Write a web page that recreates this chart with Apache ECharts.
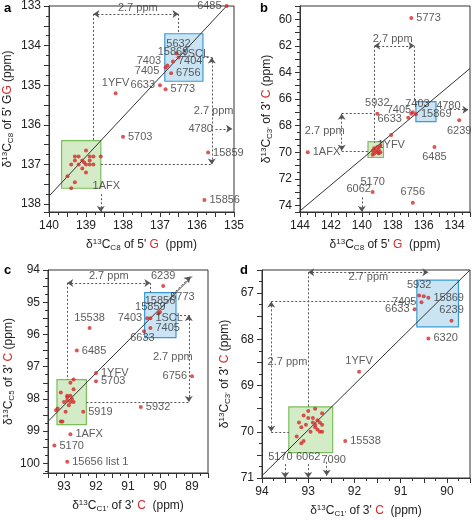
<!DOCTYPE html>
<html>
<head>
<meta charset="UTF-8">
<script src="https://cdn.jsdelivr.net/npm/echarts@6/dist/echarts.min.js"></script>
<style>body{margin:0}#app{width:474px;height:520px}</style>
</head>
<body>
<div id="app"></div>
<script>
// labelled points: [x, y, name]
const ptsA = [[135.2,133.0,'6485'],[136.55,134.2,'1SCL'],[136.5,134.3,''],[136.65,134.4,'7404'],[136.8,134.5,''],[136.85,134.55,''],[136.7,134.7,'6756'],
  [137.0,135.0,'6633'],[136.85,135.1,'5773'],[138.2,135.2,'1YFV'],[138.0,136.3,'5703'],[135.7,136.7,'15859'],[135.8,137.9,'15856']];
const clusterA = [[139.2,136.8],[139.0,136.65],[139.3,136.8],[138.9,136.8],[138.8,136.8],[138.6,136.8],[139.1,136.9],[138.9,136.9],[139.2,137.0],
  [139.0,137.0],[138.8,137.0],[139.4,137.0],[139.3,136.9],[139.1,137.1],[139.0,137.2],[138.9,137.0],[139.5,137.3],[139.3,137.45],[139.4,137.6],[139.05,136.95]];
const ptsB = [[136.8,59.9,'5773'],[139.0,67.1,'5932'],[136.7,67.0,''],[136.8,67.1,''],[136.5,67.15,'15869'],[137.0,67.4,''],
  [133.7,67.6,'6239'],[138.1,68.7,'1YFV'],[135.3,69.6,'6485'],[143.5,70.0,'1AFX'],[139.3,73.0,'5170'],[136.7,73.8,'6756']];
const clusterB = [[139.2,69.7],[139.0,69.6],[138.8,69.5],[139.3,69.9],[139.1,69.9],[138.9,69.8],[139.0,70.0],[139.2,70.1],[138.8,70.0],[139.3,70.2],[138.9,70.1]];
const ptsC = [[89.9,94.5,'6239'],[90.0,95.3,'15856'],[90.05,95.35,''],[90.3,95.5,'1SCL'],[90.4,95.5,'7403'],[90.3,95.8,'7405'],[90.5,95.9,''],
  [92.2,95.8,'15538'],[92.6,96.5,'6485'],[92.0,97.2,'1YFV'],[92.0,97.45,'5703'],[89.0,97.3,'6756'],[92.4,98.4,'5919'],[90.6,98.25,'5932'],
  [92.8,99.1,'1AFX'],[93.3,99.45,'5170'],[92.9,99.95,'15656 list 1']];
const clusterC = [[92.7,97.4],[92.8,97.5],[92.7,97.7],[93.1,97.8],[92.9,97.9],[92.8,97.9],[92.75,98.0],[92.9,98.05],[93.0,98.1],[92.8,98.1],
  [92.7,98.1],[93.2,98.3],[93.25,98.35],[92.95,98.4],[93.1,98.7],[93.05,98.7],[92.85,98.2],[92.9,97.95]];
const ptsD = [[90.6,67.05,'5932'],[90.5,67.07,''],[90.4,67.1,'15869'],[90.55,67.2,'7405'],[90.7,67.35,'6633'],[89.9,67.6,'6239'],
  [90.4,67.98,'6320'],[91.9,68.7,'1YFV'],[92.2,70.2,'15538']];
const clusterD = [[93.0,69.55],[92.85,69.5],[93.1,69.65],[92.7,69.6],[92.9,69.7],[93.0,69.7],[92.8,69.75],[92.75,69.8],[93.2,69.8],[92.9,69.8],
  [93.05,69.85],[92.85,69.85],[92.7,69.85],[93.15,69.9],[92.8,69.95],[92.75,70.0],[92.7,70.0],[92.95,70.0],[93.25,70.1],[93.1,70.2],[93.15,70.25],[92.85,69.9]];

// label placement (style)
const pos = {'6485':'left','1YFV':'top','6633':'left','7405':'left','1SCL':'right','6756':'right',
  '6239':'top','15538':'right','5932':'top','15869':'right','6320':'right','15856':'right'};
const posB = {'5773':'right','6239':'bottom','6485':'bottom','5170':'top','6756':'top','1YFV':'bottom','5932':'top','15869':'right','1AFX':'right'};
const posC = {'15856':'top','1SCL':'right','7403':'left','7405':'right','6239':'top','6756':'left','5932':'right','15538':'top'};

const red = '#d42a2a';
const chart = echarts.init(document.getElementById('app'));
const grids = [
  {left:47, top:6, width:187, height:206},
  {left:300, top:6, width:170, height:206},
  {left:48, top:270, width:160, height:203},
  {left:262, top:270, width:208, height:208}
];
function axName(sub, of, col, tail) {
  return '{n|δ}{s|13}{n|C}{b|' + sub + '}{n| of ' + of + '}{r|' + col + '}{n|' + tail + '}';
}
const rich = {n:{fontSize:12,color:'#222'},s:{fontSize:8,color:'#222',verticalAlign:'top',padding:[0,0,6,0]},
  b:{fontSize:8,color:'#222',padding:[6,0,0,0]},r:{fontSize:12,color:red}};
function xAx(i, min, max, iv, name, every) {
  return {gridIndex:i, type:'value', inverse:true, min, max, interval:iv, name, nameLocation:'middle', nameGap:26,
    nameTextStyle:{rich}, axisLine:{lineStyle:{color:'#333'}}, axisTick:{inside:false},
    minorTick:{show:true, splitNumber:2}, splitLine:{show:false},
    axisLabel:{color:'#222', fontSize:12, formatter:v => (Math.abs(v % every) < 1e-6 ? v : '')}};
}
function yAx(i, min, max, iv, name, every, gap) {
  const a = xAx(i, min, max, iv, name, every); a.nameGap = gap; a.nameRotate = 90; return a;
}
function scat(i, pts, p) {
  return {type:'scatter', xAxisIndex:i, yAxisIndex:i, symbolSize:4, itemStyle:{color:red},
    data:pts.map(d => ({value:[d[0],d[1]], name:d[2], label:{show:!!d[2], position:p[d[2]] || 'right'}})),
    label:{formatter:'{b}', fontSize:11, color:'#333', distance:3}};
}
function clus(i, pts) {
  return {type:'scatter', xAxisIndex:i, yAxisIndex:i, symbolSize:4, itemStyle:{color:red}, data:pts, z:3};
}
function diag(i, a, b, boxes, arrows) {
  return {type:'line', xAxisIndex:i, yAxisIndex:i, data:[a, b], symbol:'none', lineStyle:{color:'#333', width:1}, z:1,
    markArea:{silent:true, data:boxes.map(bx => [{coord:[bx[0],bx[1]], itemStyle:{color:bx[4]==='g'?'rgba(160,210,130,0.45)':'rgba(140,195,230,0.45)',
      borderColor:bx[4]==='g'?'#7cbf5a':'#3a9ad6', borderWidth:1.2}}, {coord:[bx[2],bx[3]]}])},
    markLine:{silent:true, animation:false, lineStyle:{color:'#555', type:[2,2], width:1}, label:{show:false}, symbolSize:6,
      data:arrows.map(r => [{coord:r[0], symbol:r[2]?'arrow':'none'}, {coord:r[1], symbol:r[3]?'arrow':'none'}])}};
}
function notes(i, arr) {
  return {type:'scatter', xAxisIndex:i, yAxisIndex:i, symbolSize:0, z:5,
    data:arr.map(t => ({value:[t[0],t[1]], name:t[2]})),
    label:{show:true, formatter:'{b}', position:'inside', fontSize:11, color:'#333'}};
}
const option = {
  animation:false,
  grid: grids.map(g => Object.assign({show:true, borderColor:'#333', borderWidth:1}, g)),
  xAxis: [xAx(0,135,140,0.5,axName('C8',"5' ",'G','  (ppm)'),1), xAx(1,133,144,1,axName('C8',"5' ",'G','  (ppm)'),2),
          xAx(2,88.5,93.5,0.5,axName("C1'","3' ",'C','  (ppm)'),1), xAx(3,89.5,94,0.5,axName("C1'","3' ",'C','  (ppm)'),1)],
  yAxis: [yAx(0,133,138.2,0.5,axName('C8',"5' G",'G',' (ppm)'),1,34), yAx(1,59,74.5,1,axName("C3'","3' ",'C',' (ppm)'),2,26),
          yAx(2,94,100.3,0.5,axName('C5',"3' ",'C',' (ppm)'),1,26), yAx(3,66.5,71,0.5,axName("C3'","3' ",'C',' (ppm)'),1,30)],
  series: [
    diag(0,[140,137.8],[135,132.8],[[139.66,136.4,138.6,137.6,'g'],[136.87,133.7,135.84,134.9,'b']],
      [[[138.8,133.2],[136.5,133.2],1,1],[[138.8,133.2],[138.8,136.4],0,0],[[136.5,133.2],[136.5,133.7],0,0],
       [[138.6,137.0],[135.6,137.0],0,0],[[135.6,134.3],[135.6,137.0],1,1],[[135.85,134.3],[135.6,134.3],0,0],
       [[135.5,136.1],[135.05,136.1],0,1],[[138.6,137.75],[138.6,138.2],0,1]]),
    clus(0, clusterA), scat(0, ptsA, pos),
    notes(0, [[137.6,133.05,'2.7 ppm'],[135.55,135.65,'2.7 ppm'],[135.9,136.1,'4780'],[138.45,137.55,'1AFX'],
      [136.5,133.95,'5632'],[136.65,134.15,'15869'],[137.3,134.4,'7403'],[137.35,134.65,'7405']]),
    diag(1,[144.5,74.9],[133,63.7],[[139.6,69.2,138.6,70.4,'g'],[136.5,66.2,135.2,67.7,'b']],
      [[[139.2,62],[136.6,62],1,1],[[139.2,62],[139.2,69.3],0,0],[[136.6,62],[136.6,66.2],0,0],
       [[141.3,67.1],[139.2,67.1],0,0],[[141.3,67.1],[141.3,69.9],1,1],[[141.3,69.9],[139.6,69.9],0,0],
       [[134.3,66.8],[133.1,66.8],0,1],[[140,73.4],[140,74.5],0,1]]),
    clus(1, clusterB), scat(1, ptsB, posB),
    notes(1, [[138.0,61.5,'2.7 ppm'],[142.4,68.4,'2.7 ppm'],[134.4,66.5,'4780'],[140.2,72.8,'6062'],
      [136.4,66.4,'7403'],[137.6,66.8,'7405'],[138.2,67.5,'6633']]),
    diag(2,[93.5,98.7],[89,94.2],[[93.22,97.4,92.3,98.8,'g'],[90.48,94.7,89.5,96.1,'b']],
      [[[92.9,94.4],[90.3,94.4],1,1],[[92.9,94.4],[92.9,97.4],0,0],[[90.3,94.4],[90.3,94.7],0,0],
       [[92.3,98.1],[89.1,98.1],0,0],[[89.1,95.4],[89.1,98.1],1,1],[[89.5,95.4],[89.1,95.4],0,0],
       [[89.6,94.75],[89.05,94.2],0,1]]),
    clus(2, clusterC), scat(2, ptsC, posC),
    notes(2, [[91.6,94.2,'2.7 ppm'],[89.6,96.7,'2.7 ppm'],[89.3,94.85,'5773'],[90.3,95.15,'15859'],[90.55,96.1,'6633']]),
    diag(3,[94,70.95],[89.5,66.5],[[93.42,69.46,92.47,70.45,'g'],[90.65,66.72,89.75,67.73,'b']],
      [[[93.0,66.55],[90.4,66.55],1,1],[[93.0,66.55],[93.0,69.46],0,0],
       [[93.8,67.18],[90.7,67.18],0,0],[[93.8,67.18],[93.8,70.0],1,1],[[93.8,70.0],[93.42,70.0],0,0],
       [[93.5,70.7],[93.5,71.0],0,1],[[93.0,70.7],[93.0,71.0],0,1],[[92.6,70.65],[92.6,70.95],0,1]]),
    clus(3, clusterD), scat(3, ptsD, pos),
    notes(3, [[91.7,66.65,'2.7 ppm'],[93.45,68.5,'2.7 ppm'],[93.6,70.55,'5170'],[93.0,70.55,'6062'],[92.45,70.6,'7090']])
  ],
  graphic: [
    {type:'text', left:4, top:2, style:{text:'a', font:'bold 13px sans-serif'}},
    {type:'text', left:260, top:2, style:{text:'b', font:'bold 13px sans-serif'}},
    {type:'text', left:4, top:264, style:{text:'c', font:'bold 13px sans-serif'}},
    {type:'text', left:240, top:264, style:{text:'d', font:'bold 13px sans-serif'}}
  ]
};
chart.setOption(option);
</script>
</body>
</html>
